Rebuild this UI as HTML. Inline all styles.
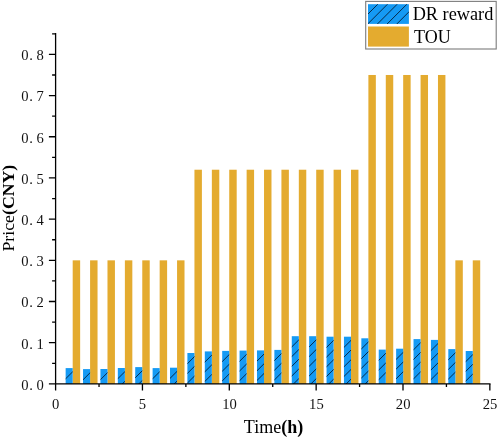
<!DOCTYPE html>
<html lang="en"><head><meta charset="utf-8"><title>Price chart</title>
<style>html,body{margin:0;padding:0;background:#fff}svg{display:block}</style></head>
<body>
<svg width="498" height="439" viewBox="0 0 498 439">
<defs><clipPath id="bc"><rect x="65.64" y="368.1" width="7.05" height="15.8"/><rect x="83.04" y="369.1" width="7.05" height="14.8"/><rect x="100.43" y="369" width="7.05" height="14.9"/><rect x="117.83" y="368" width="7.05" height="15.9"/><rect x="135.22" y="367.1" width="7.05" height="16.8"/><rect x="152.61" y="368.1" width="7.05" height="15.8"/><rect x="170.01" y="367.7" width="7.05" height="16.2"/><rect x="187.4" y="353" width="7.05" height="30.9"/><rect x="204.8" y="351.4" width="7.05" height="32.5"/><rect x="222.19" y="350.9" width="7.05" height="33"/><rect x="239.58" y="350.6" width="7.05" height="33.3"/><rect x="256.98" y="350.4" width="7.05" height="33.5"/><rect x="274.37" y="349.9" width="7.05" height="34"/><rect x="291.77" y="336.2" width="7.05" height="47.7"/><rect x="309.16" y="336.2" width="7.05" height="47.7"/><rect x="326.55" y="336.7" width="7.05" height="47.2"/><rect x="343.95" y="336.7" width="7.05" height="47.2"/><rect x="361.34" y="338.3" width="7.05" height="45.6"/><rect x="378.74" y="349.6" width="7.05" height="34.3"/><rect x="396.13" y="348.7" width="7.05" height="35.2"/><rect x="413.52" y="339.1" width="7.05" height="44.8"/><rect x="430.92" y="339.9" width="7.05" height="44"/><rect x="448.31" y="349.1" width="7.05" height="34.8"/><rect x="465.71" y="351" width="7.05" height="32.9"/><rect x="368" y="4.2" width="40.9" height="19.7"/></clipPath></defs>
<rect width="498" height="439" fill="#fff"/>
<g fill="#E4AB2F"><rect x="72.69" y="260.34" width="7.45" height="123.56"/><rect x="90.09" y="260.34" width="7.45" height="123.56"/><rect x="107.48" y="260.34" width="7.45" height="123.56"/><rect x="124.88" y="260.34" width="7.45" height="123.56"/><rect x="142.27" y="260.34" width="7.45" height="123.56"/><rect x="159.66" y="260.34" width="7.45" height="123.56"/><rect x="177.06" y="260.34" width="7.45" height="123.56"/><rect x="194.45" y="169.72" width="7.45" height="214.18"/><rect x="211.85" y="169.72" width="7.45" height="214.18"/><rect x="229.24" y="169.72" width="7.45" height="214.18"/><rect x="246.63" y="169.72" width="7.45" height="214.18"/><rect x="264.03" y="169.72" width="7.45" height="214.18"/><rect x="281.42" y="169.72" width="7.45" height="214.18"/><rect x="298.82" y="169.72" width="7.45" height="214.18"/><rect x="316.21" y="169.72" width="7.45" height="214.18"/><rect x="333.6" y="169.72" width="7.45" height="214.18"/><rect x="351" y="169.72" width="7.45" height="214.18"/><rect x="368.39" y="74.99" width="7.45" height="308.91"/><rect x="385.79" y="74.99" width="7.45" height="308.91"/><rect x="403.18" y="74.99" width="7.45" height="308.91"/><rect x="420.57" y="74.99" width="7.45" height="308.91"/><rect x="437.97" y="74.99" width="7.45" height="308.91"/><rect x="455.36" y="260.34" width="7.45" height="123.56"/><rect x="472.76" y="260.34" width="7.45" height="123.56"/></g>
<g fill="#159AF4"><rect x="65.64" y="368.1" width="7.05" height="15.8"/><rect x="83.04" y="369.1" width="7.05" height="14.8"/><rect x="100.43" y="369" width="7.05" height="14.9"/><rect x="117.83" y="368" width="7.05" height="15.9"/><rect x="135.22" y="367.1" width="7.05" height="16.8"/><rect x="152.61" y="368.1" width="7.05" height="15.8"/><rect x="170.01" y="367.7" width="7.05" height="16.2"/><rect x="187.4" y="353" width="7.05" height="30.9"/><rect x="204.8" y="351.4" width="7.05" height="32.5"/><rect x="222.19" y="350.9" width="7.05" height="33"/><rect x="239.58" y="350.6" width="7.05" height="33.3"/><rect x="256.98" y="350.4" width="7.05" height="33.5"/><rect x="274.37" y="349.9" width="7.05" height="34"/><rect x="291.77" y="336.2" width="7.05" height="47.7"/><rect x="309.16" y="336.2" width="7.05" height="47.7"/><rect x="326.55" y="336.7" width="7.05" height="47.2"/><rect x="343.95" y="336.7" width="7.05" height="47.2"/><rect x="361.34" y="338.3" width="7.05" height="45.6"/><rect x="378.74" y="349.6" width="7.05" height="34.3"/><rect x="396.13" y="348.7" width="7.05" height="35.2"/><rect x="413.52" y="339.1" width="7.05" height="44.8"/><rect x="430.92" y="339.9" width="7.05" height="44"/><rect x="448.31" y="349.1" width="7.05" height="34.8"/><rect x="465.71" y="351" width="7.05" height="32.9"/></g>
<rect x="365.7" y="1.4" width="130.5" height="47.6" fill="#fff" stroke="#808080" stroke-width="1.15"/>
<g fill="#159AF4"><rect x="368" y="4.2" width="40.9" height="19.7"/></g>
<rect x="368" y="26.5" width="40.9" height="20.1" fill="#E4AB2F"/>
<g clip-path="url(#bc)" stroke="#06243f" stroke-width="0.95" fill="none"><line x1="64.64" y1="379.8" x2="73.69" y2="370.75"/><line x1="82.04" y1="380.8" x2="91.09" y2="371.75"/><line x1="99.43" y1="380.7" x2="108.48" y2="371.65"/><line x1="116.83" y1="379.7" x2="125.88" y2="370.65"/><line x1="121.33" y1="384.9" x2="125.88" y2="380.35"/><line x1="134.22" y1="378.8" x2="143.27" y2="369.75"/><line x1="137.82" y1="384.9" x2="143.27" y2="379.45"/><line x1="151.61" y1="379.8" x2="160.66" y2="370.75"/><line x1="169.01" y1="379.4" x2="178.06" y2="370.35"/><line x1="173.21" y1="384.9" x2="178.06" y2="380.05"/><line x1="186.4" y1="364.7" x2="195.45" y2="355.65"/><line x1="186.4" y1="374.4" x2="195.45" y2="365.35"/><line x1="186.4" y1="384.1" x2="195.45" y2="375.05"/><line x1="203.8" y1="363.1" x2="212.85" y2="354.05"/><line x1="203.8" y1="372.8" x2="212.85" y2="363.75"/><line x1="203.8" y1="382.5" x2="212.85" y2="373.45"/><line x1="221.19" y1="362.6" x2="230.24" y2="353.55"/><line x1="221.19" y1="372.3" x2="230.24" y2="363.25"/><line x1="221.19" y1="382" x2="230.24" y2="372.95"/><line x1="238.58" y1="362.3" x2="247.63" y2="353.25"/><line x1="238.58" y1="372" x2="247.63" y2="362.95"/><line x1="238.58" y1="381.7" x2="247.63" y2="372.65"/><line x1="255.98" y1="362.1" x2="265.03" y2="353.05"/><line x1="255.98" y1="371.8" x2="265.03" y2="362.75"/><line x1="255.98" y1="381.5" x2="265.03" y2="372.45"/><line x1="273.37" y1="361.6" x2="282.42" y2="352.55"/><line x1="273.37" y1="371.3" x2="282.42" y2="362.25"/><line x1="273.37" y1="381" x2="282.42" y2="371.95"/><line x1="290.77" y1="347.9" x2="299.82" y2="338.85"/><line x1="290.77" y1="357.6" x2="299.82" y2="348.55"/><line x1="290.77" y1="367.3" x2="299.82" y2="358.25"/><line x1="290.77" y1="377" x2="299.82" y2="367.95"/><line x1="292.57" y1="384.9" x2="299.82" y2="377.65"/><line x1="308.16" y1="347.9" x2="317.21" y2="338.85"/><line x1="308.16" y1="357.6" x2="317.21" y2="348.55"/><line x1="308.16" y1="367.3" x2="317.21" y2="358.25"/><line x1="308.16" y1="377" x2="317.21" y2="367.95"/><line x1="309.96" y1="384.9" x2="317.21" y2="377.65"/><line x1="325.55" y1="348.4" x2="334.6" y2="339.35"/><line x1="325.55" y1="358.1" x2="334.6" y2="349.05"/><line x1="325.55" y1="367.8" x2="334.6" y2="358.75"/><line x1="325.55" y1="377.5" x2="334.6" y2="368.45"/><line x1="327.85" y1="384.9" x2="334.6" y2="378.15"/><line x1="342.95" y1="348.4" x2="352" y2="339.35"/><line x1="342.95" y1="358.1" x2="352" y2="349.05"/><line x1="342.95" y1="367.8" x2="352" y2="358.75"/><line x1="342.95" y1="377.5" x2="352" y2="368.45"/><line x1="345.25" y1="384.9" x2="352" y2="378.15"/><line x1="360.34" y1="350" x2="369.39" y2="340.95"/><line x1="360.34" y1="359.7" x2="369.39" y2="350.65"/><line x1="360.34" y1="369.4" x2="369.39" y2="360.35"/><line x1="360.34" y1="379.1" x2="369.39" y2="370.05"/><line x1="364.24" y1="384.9" x2="369.39" y2="379.75"/><line x1="377.74" y1="361.3" x2="386.79" y2="352.25"/><line x1="377.74" y1="371" x2="386.79" y2="361.95"/><line x1="377.74" y1="380.7" x2="386.79" y2="371.65"/><line x1="395.13" y1="360.4" x2="404.18" y2="351.35"/><line x1="395.13" y1="370.1" x2="404.18" y2="361.05"/><line x1="395.13" y1="379.8" x2="404.18" y2="370.75"/><line x1="412.52" y1="350.8" x2="421.57" y2="341.75"/><line x1="412.52" y1="360.5" x2="421.57" y2="351.45"/><line x1="412.52" y1="370.2" x2="421.57" y2="361.15"/><line x1="412.52" y1="379.9" x2="421.57" y2="370.85"/><line x1="429.92" y1="351.6" x2="438.97" y2="342.55"/><line x1="429.92" y1="361.3" x2="438.97" y2="352.25"/><line x1="429.92" y1="371" x2="438.97" y2="361.95"/><line x1="429.92" y1="380.7" x2="438.97" y2="371.65"/><line x1="447.31" y1="360.8" x2="456.36" y2="351.75"/><line x1="447.31" y1="370.5" x2="456.36" y2="361.45"/><line x1="447.31" y1="380.2" x2="456.36" y2="371.15"/><line x1="464.71" y1="362.7" x2="473.76" y2="353.65"/><line x1="464.71" y1="372.4" x2="473.76" y2="363.35"/><line x1="464.71" y1="382.1" x2="473.76" y2="373.05"/><line x1="367" y1="15" x2="378.8" y2="3.2"/><line x1="367" y1="24.7" x2="388.5" y2="3.2"/><line x1="376.5" y1="24.9" x2="398.2" y2="3.2"/><line x1="386.2" y1="24.9" x2="407.9" y2="3.2"/><line x1="395.9" y1="24.9" x2="409.9" y2="10.9"/></g>
<g stroke="#000" stroke-width="1.3" fill="none" stroke-linejoin="miter"><path d="M55.6 33.11V383.9H490.55" /><path d="M55.6 383.9H48.9M55.6 363.31H52.1M55.6 342.71H48.9M55.6 322.12H52.1M55.6 301.52H48.9M55.6 280.93H52.1M55.6 260.34H48.9M55.6 239.74H52.1M55.6 219.15H48.9M55.6 198.56H52.1M55.6 177.96H48.9M55.6 157.37H52.1M55.6 136.77H48.9M55.6 116.18H52.1M55.6 95.59H48.9M55.6 74.99H52.1M55.6 54.4H48.9M55.6 33.81H52.1M55.6 383.9V390.5M99.03 383.9V387.1M142.45 383.9V390.5M185.88 383.9V387.1M229.3 383.9V390.5M272.73 383.9V387.1M316.15 383.9V390.5M359.58 383.9V387.1M403 383.9V390.5M446.43 383.9V387.1M489.85 383.9V390.5"/></g>
<g font-family="'Liberation Serif', serif" font-size="14.6" text-anchor="middle" fill="#111"><text y="389.8" x="24.95 31.05 40.1">0.0</text><text y="348.61" x="24.95 31.05 40.1">0.1</text><text y="307.42" x="24.95 31.05 40.1">0.2</text><text y="266.24" x="24.95 31.05 40.1">0.3</text><text y="225.05" x="24.95 31.05 40.1">0.4</text><text y="183.86" x="24.95 31.05 40.1">0.5</text><text y="142.67" x="24.95 31.05 40.1">0.6</text><text y="101.49" x="24.95 31.05 40.1">0.7</text><text y="60.3" x="24.95 31.05 40.1">0.8</text><text y="408.6" x="55.6">0</text><text y="408.6" x="142.45">5</text><text y="408.6" x="225.8 233.2">10</text><text y="408.6" x="312.65 320.05">15</text><text y="408.6" x="399.5 406.9">20</text><text y="408.6" x="486.35 493.75">25</text></g>
<g font-family="'Liberation Serif', serif" font-size="18" fill="#000">
<text x="412.7" y="20.2" font-size="18.25">DR reward</text>
<text x="414" y="43">TOU</text>
<text x="243.8" y="433.2">Time<tspan font-weight="bold">(h)</tspan></text>
<text transform="translate(14.1 251.5) rotate(-90)" font-size="17.75">Price<tspan font-weight="bold">(CNY)</tspan></text>
</g>
</svg>
</body></html>
